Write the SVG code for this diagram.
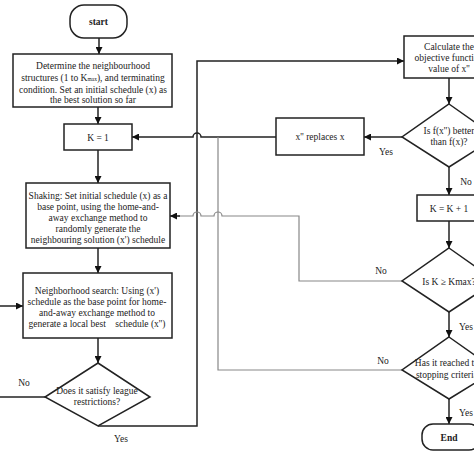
<svg xmlns="http://www.w3.org/2000/svg" width="474" height="474" viewBox="0 0 474 474">
<style>
.box{fill:#fff;stroke:#222;stroke-width:1.5}
.t{font-family:"Liberation Serif","DejaVu Serif",serif;font-size:9.5px;fill:#222;text-anchor:middle}
.b{font-weight:bold}
.ln{fill:none;stroke:#222;stroke-width:1.5}
.gl{fill:none;stroke:#888;stroke-width:1.2}
</style>
<defs>
<marker id="a" viewBox="0 0 10 10" refX="10" refY="5" markerWidth="7" markerHeight="7" orient="auto" markerUnits="userSpaceOnUse">
<path d="M0,0 L10,5 L0,10 z" fill="#111"/>
</marker>
</defs>
<rect width="474" height="474" fill="#fff"/>
<g id="connectors">
<path class="ln" d="M99,38 V54" marker-end="url(#a)"/>
<path class="ln" d="M98,107 V124" marker-end="url(#a)"/>
<path class="ln" d="M98,150 V183" marker-end="url(#a)"/>
<path class="ln" d="M98,248 V273" marker-end="url(#a)"/>
<path class="ln" d="M98,338 V363" marker-end="url(#a)"/>
<path class="ln" d="M98,426 H197 V61 H404" marker-end="url(#a)"/>
<path class="ln" d="M276,137 H201 A4,4 0 0 0 193,137 H132" marker-end="url(#a)"/>
<path class="gl" d="M218,137 V370 H402"/>
<path class="gl" d="M402,281 H299 V216 H222 A4,4 0 0 0 214,216 H201 A4,4 0 0 0 193,216 H178"/>
<path class="ln" d="M180,216 H170" marker-end="url(#a)"/>
<path class="ln" d="M0,306 H23" marker-end="url(#a)"/>
<path class="ln" d="M45,397 H0"/>
<path class="ln" d="M449,78 V104" marker-end="url(#a)"/>
<path class="ln" d="M402,137 H364" marker-end="url(#a)"/>
<path class="ln" d="M449,167 V195" marker-end="url(#a)"/>
<path class="ln" d="M449,221 V248" marker-end="url(#a)"/>
<path class="ln" d="M449,312 V337" marker-end="url(#a)"/>
<path class="ln" d="M449,399 V424" marker-end="url(#a)"/>
<text class="t" x="24" y="386">No</text>
<text class="t" x="121" y="442">Yes</text>
<text class="t" x="386" y="155">Yes</text>
<text class="t" x="466" y="185">No</text>
<text class="t" x="381" y="274">No</text>
<text class="t" x="466" y="330">Yes</text>
<text class="t" x="383" y="364">No</text>
<text class="t" x="466" y="416">Yes</text>
</g>
<g id="start">
<rect class="box" x="70" y="5" width="57" height="33" rx="14"/>
<text class="t b" x="98.5" y="24.5">start</text>
</g>
<g id="init">
<rect class="box" x="13" y="54" width="159" height="53"/>
<text class="t" x="93" y="69">Determine the neighbourhood</text>
<text class="t" x="93" y="81">structures (1 to K<tspan font-size="5.5">max</tspan>), and terminating</text>
<text class="t" x="93" y="92.5">condition. Set an initial schedule (x) as</text>
<text class="t" x="93" y="103">the best solution so far</text>
</g>
<g id="k1">
<rect class="box" x="64" y="124" width="68" height="26"/>
<text class="t" x="98" y="140.5">K = 1</text>
</g>
<g id="shaking">
<rect class="box" x="26" y="183" width="144" height="65"/>
<text class="t" x="98" y="198.5">Shaking: Set initial schedule (x) as a</text>
<text class="t" x="98" y="209.5">base point, using the home-and-</text>
<text class="t" x="98" y="220.5">away exchange method to</text>
<text class="t" x="98" y="231.5">randomly generate the</text>
<text class="t" x="98" y="242.5">neighbouring solution (x') schedule</text>
</g>
<g id="nsearch">
<rect class="box" x="23" y="273" width="149" height="65"/>
<text class="t" x="97" y="293.5">Neighborhood search: Using (x')</text>
<text class="t" x="97" y="305">schedule as the base point for home-</text>
<text class="t" x="97" y="316">and-away exchange method to</text>
<text class="t" x="97" y="326.5" style="white-space:pre">generate a local best    schedule (x'')</text>
</g>
<g id="league">
<path class="box" d="M98,363 L150,397 L98,426 L45,397 Z"/>
<text class="t" x="97" y="393.5">Does it satisfy league</text>
<text class="t" x="97" y="404.5">restrictions?</text>
</g>
<g id="calc">
<rect class="box" x="404" y="36" width="90" height="42"/>
<text class="t" x="449" y="50">Calculate the</text>
<text class="t" x="449" y="60.5">objective function</text>
<text class="t" x="449" y="72">value of x''</text>
</g>
<g id="better">
<path class="box" d="M449,104 L496,137 L449,167 L402,137 Z"/>
<text class="t" x="449" y="134">Is f(x'') better</text>
<text class="t" x="449" y="144.5">than f(x)?</text>
</g>
<g id="replace">
<rect class="box" x="276" y="118" width="88" height="37"/>
<text class="t" x="320" y="140">x'' replaces x</text>
</g>
<g id="kinc">
<rect class="box" x="417" y="195" width="64" height="26"/>
<text class="t" x="449" y="211.5">K = K + 1</text>
</g>
<g id="kmax">
<path class="box" d="M449,248 L496,281 L449,312 L402,281 Z"/>
<text class="t" x="449" y="284.5">Is K ≥ Kmax?</text>
</g>
<g id="stop">
<path class="box" d="M449,337 L496,370 L449,399 L402,370 Z"/>
<text class="t" x="449" y="366">Has it reached the</text>
<text class="t" x="449" y="377.5">stopping criteria?</text>
</g>
<g id="end">
<rect class="box" x="422" y="424" width="58" height="26" rx="11"/>
<text class="t b" x="449" y="440.5">End</text>
</g>
</svg>
